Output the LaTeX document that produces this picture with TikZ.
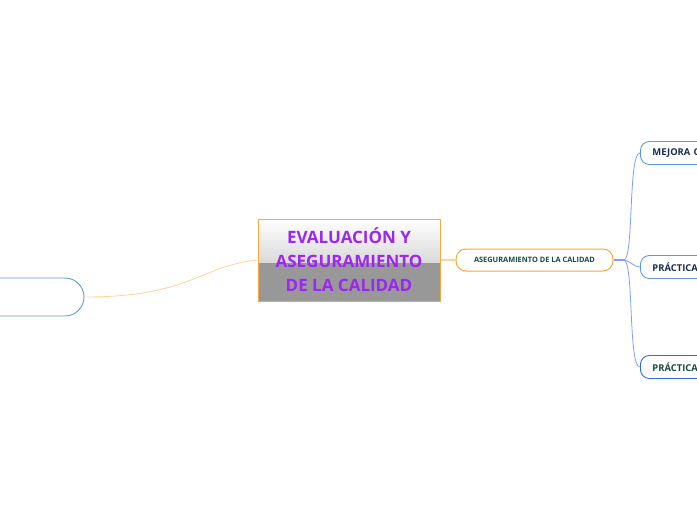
\documentclass[tikz,border=0pt]{standalone}
\usepackage{fontspec}
\setmainfont{Open Sans}
\definecolor{boxorange}{HTML}{F7A83A}
\definecolor{lineorange}{HTML}{FBD49B}
\definecolor{boxblue}{HTML}{5A9BD8}
\definecolor{deepblue}{HTML}{2F6BE0}
\definecolor{lineblue}{HTML}{7F9DFF}
\definecolor{titlepurple}{HTML}{9B27F0}
\definecolor{navytext}{HTML}{1C2D52}
\definecolor{greentext}{HTML}{174C3C}
\definecolor{midgray}{HTML}{989898}
\begin{document}
\begin{tikzpicture}
        [x=1pt, y=-1pt,
        topic/.style={draw=boxorange, rounded corners=10pt, line width=1pt, fill=white, minimum width=157pt, minimum height=22pt, inner sep=0pt, font=\fontsize{7.4}{8}\selectfont\bfseries, text=greentext},
        branch/.style={draw=boxblue, rounded corners=9pt, line width=0.9pt, fill=white, minimum height=23pt, anchor=west, text width=110pt, inner xsep=12pt, align=left, font=\fontsize{9.4}{11}\selectfont\bfseries, text=navytext},
        link/.style={lineblue, line width=0.8pt}]
        \useasboundingbox (0,0) rectangle (697,520);
        \clip (0,0) rectangle (697,520);

        % central box
        \shade[top color=white, bottom color=gray!30] (258,219) rectangle (440,263);
        \fill[midgray] (258,263) rectangle (440,301);
        \node[draw=boxorange, line width=1pt, minimum width=182pt, minimum height=82pt, align=center, text=titlepurple, font=\fontsize{17}{24}\selectfont\bfseries] (central) at (349,260) {EVALUACIÓN Y\\ASEGURAMIENTO\\DE LA CALIDAD};

        \node[draw=boxblue, line width=0.9pt, rounded corners=19pt, fill=white, minimum width=170pt, minimum height=38pt] (left) at (-1,297) {};
        \node[topic] (aseg) at (534.5,260) {ASEGURAMIENTO DE LA CALIDAD};

        \node[branch] (mejora) at (640,153) {MEJORA CONTINUA};
        \node[branch] (practA) at (640,267) {PRÁCTICAS};
        \node[branch, draw=deepblue, text=greentext] (practB) at (640,367) {PRÁCTICAS};

        \draw[lineorange, line width=0.8pt] (left.east) .. controls (190,297) and (200,266) .. (central.west);
        \draw[lineorange, line width=1.4pt] (central.east) -- (aseg.west);

        \coordinate (fork) at (624,260);
        \draw[lineblue, line width=1.8pt] (aseg.east) -- (fork);
        \draw[link] (fork) .. controls (634,258) and (628,153) .. (mejora.west);
        \draw[link] (fork) .. controls (632,262) and (634,267) .. (practA.west);
        \draw[link] (fork) .. controls (634,262) and (628,367) .. (practB.west);

    \end{tikzpicture}
\end{document}
